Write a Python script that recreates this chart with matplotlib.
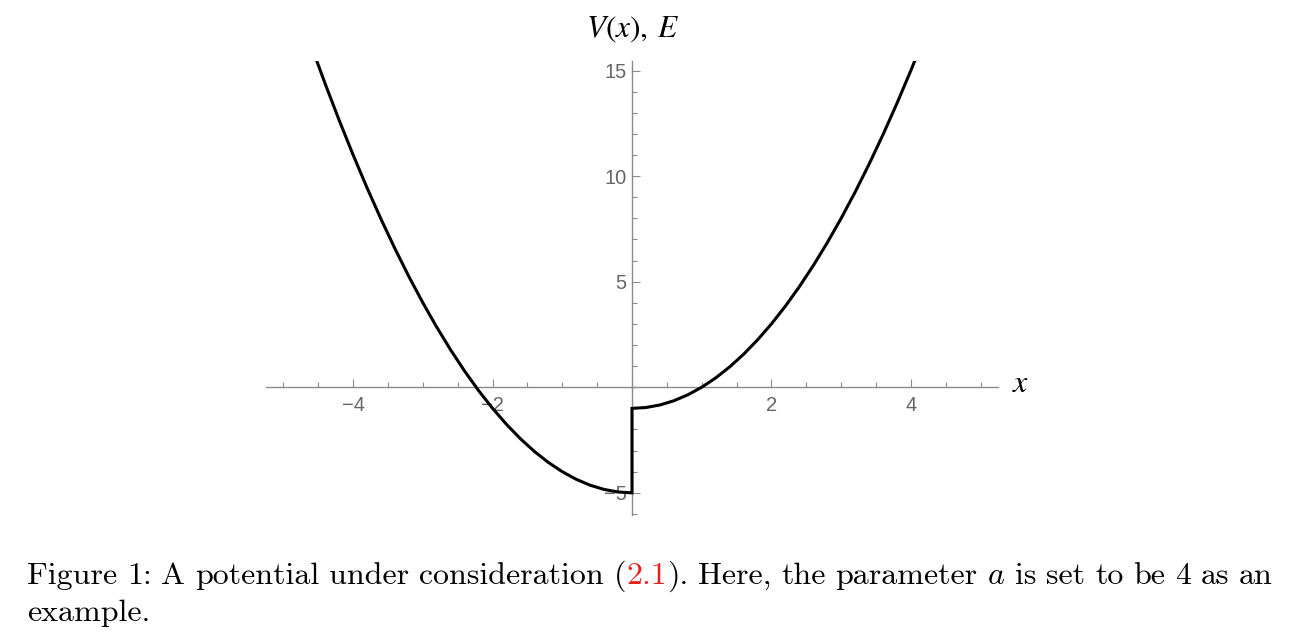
import matplotlib
matplotlib.use("Agg")
import matplotlib.pyplot as plt
from matplotlib.ticker import MultipleLocator, FixedLocator

# potential, left branch (x < 0) and right branch (x > 0)
x_left = [-4.6, -4.4, -4.2, -4.0, -3.8, -3.6, -3.4, -3.2, -3.0, -2.8, -2.6, -2.4,
          -2.2, -2.0, -1.8, -1.6, -1.4, -1.2, -1.0, -0.8, -0.6, -0.4, -0.2, 0.0]
v_left = [16.16, 14.36, 12.64, 11.0, 9.44, 7.96, 6.56, 5.24, 4.0, 2.84, 1.76, 0.76,
          -0.16, -1.0, -1.76, -2.44, -3.04, -3.56, -4.0, -4.36, -4.64, -4.84, -4.96, -5.0]
x_right = [0.0, 0.2, 0.4, 0.6, 0.8, 1.0, 1.2, 1.4, 1.6, 1.8, 2.0, 2.2, 2.4, 2.6,
           2.8, 3.0, 3.2, 3.4, 3.6, 3.8, 4.0, 4.2]
v_right = [-1.0, -0.96, -0.84, -0.64, -0.36, 0.0, 0.44, 0.96, 1.56, 2.24, 3.0, 3.84,
           4.76, 5.76, 6.84, 8.0, 9.24, 10.56, 11.96, 13.44, 15.0, 16.64]

x_ticks = [-4, -2, 2, 4]
y_ticks = [-5, 5, 10, 15]

W, H = 1298, 638
fig = plt.figure(figsize=(W / 100, H / 100), dpi=100)
ax = fig.add_axes([266 / W, (H - 515) / H, 732 / W, 454 / H])

axis_grey = "#8a8a8a"
label_grey = "#666666"

# one line through both branches gives the step at x = 0
ax.plot(x_left + x_right, v_left + v_right, color="black", lw=2.2,
        solid_joinstyle="miter", zorder=5)

ax.set_xlim(-5.25, 5.25)
ax.set_ylim(-6.05, 15.45)

for side in ["top", "right"]:
    ax.spines[side].set_visible(False)
ax.spines["left"].set_position(("data", 0))
ax.spines["bottom"].set_position(("data", 0))
for side in ["left", "bottom"]:
    ax.spines[side].set_color(axis_grey)
    ax.spines[side].set_linewidth(1.0)

ax.xaxis.set_major_locator(FixedLocator(x_ticks))
ax.xaxis.set_minor_locator(MultipleLocator(0.5))
ax.yaxis.set_major_locator(FixedLocator(y_ticks))
ax.yaxis.set_minor_locator(MultipleLocator(1))

ax.tick_params(which="both", direction="in", color=axis_grey, width=0.8)
ax.tick_params(which="major", length=6)
ax.tick_params(which="minor", length=3.5)
ax.tick_params(axis="x", which="major", pad=6)
ax.tick_params(axis="y", which="major", pad=4)
ax.set_xticklabels(["\u22124", "\u22122", "2", "4"], fontsize=14.5,
                   color=label_grey, family="Liberation Sans")
ax.set_yticklabels(["\u22125", "5", "10", "15"], fontsize=14.5,
                   color=label_grey, family="Liberation Sans")
for lab in ax.get_xticklabels() + ax.get_yticklabels():
    lab.set_zorder(1)

# axis labels
fig.text(632 / W, 1 - 36.5 / H, r"$V(x),\:E$", ha="center", va="baseline",
         fontsize=22.5, math_fontfamily="stix")
fig.text(1021 / W, 1 - 392 / H, r"$x$", ha="center", va="baseline",
         fontsize=23, math_fontfamily="stix")

# caption, justified across the page width like the LaTeX original
cap_size = 23
line1 = [
    [("Figure", "k")], [("1:", "k")], [("A", "k")], [("potential", "k")],
    [("under", "k")], [("consideration", "k")],
    [("(", "k"), ("2.1", "#e8201c"), (").", "k")],
    [("Here,", "k")], [("the", "k")], [("parameter", "k")], [("$a$", "k")],
    [("is", "k")], [("set", "k")], [("to", "k")], [("be", "k")], [("4", "k")],
    [("as", "k")], [("an", "k")],
]
line2 = [[("example.", "k")]]

renderer = fig.canvas.get_renderer()


def make(s, c, x, y):
    return fig.text(x / W, 1 - y / H, s, color=c, fontsize=cap_size,
                    family="cmr10", math_fontfamily="cm", ha="left",
                    va="baseline")


def put_line(words, x0, x1, y, justify):
    groups = []
    total = 0
    for word in words:
        parts = []
        wsum = 0
        for s, c in word:
            t = make(s, c, 0, y)
            w = t.get_window_extent(renderer).width
            parts.append((t, w))
            wsum += w
        groups.append((parts, wsum))
        total += wsum
    if justify and len(groups) > 1:
        gap = (x1 - x0 - total) / (len(groups) - 1)
    else:
        gap = cap_size * 0.45
    x = x0
    for parts, wsum in groups:
        for t, w in parts:
            t.set_x(x / W)
            x += w
        x += gap


put_line(line1, 27, 1273, 584, True)
put_line(line2, 27, 1273, 621, False)

fig.savefig("out.png", dpi=100)
